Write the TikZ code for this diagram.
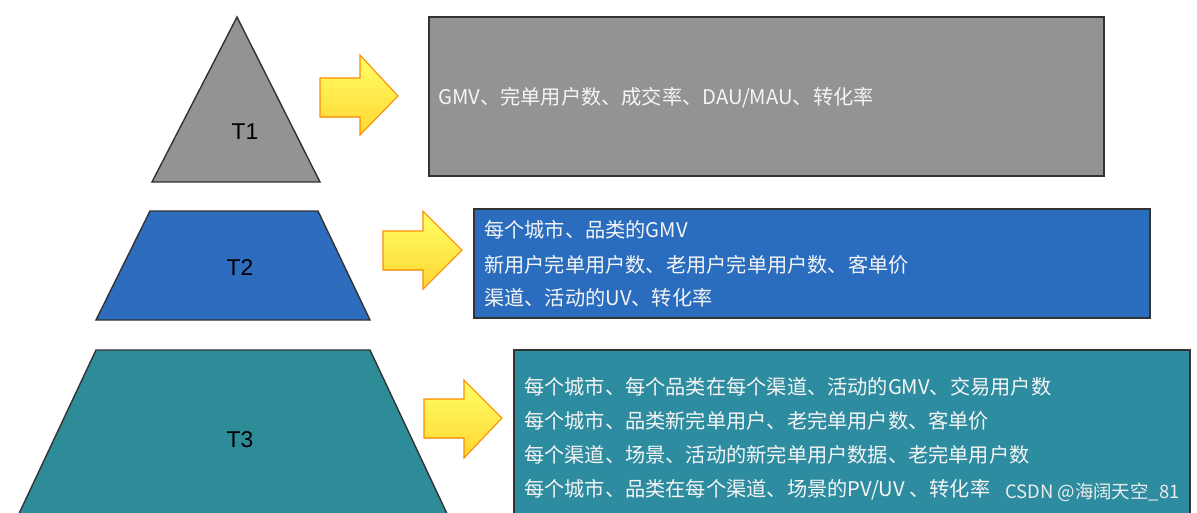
\documentclass[tikz,border=0pt]{standalone}
\usepackage{fontspec}
\setmainfont{Noto Sans CJK SC}
\newfontfamily\lat{Liberation Sans}
\begin{document}
\begin{tikzpicture}[x=0.02cm,y=-0.02cm,
  shp/.style={draw=black!80,line width=0.8pt},
  arr/.style={draw=orange!90!yellow,line width=0.6pt,top color=yellow!60,bottom color=orange!40!yellow!80},
  txt/.style={text=white!92!gray,anchor=west,font=\fontsize{11.5}{14}\selectfont,align=left,inner sep=0},
  lbl/.style={font=\lat\fontsize{13}{15}\selectfont,text=black}]
\useasboundingbox (0,0) rectangle (1197,512);
% T1
\filldraw[shp,fill=gray!85] (237,17) -- (320,182) -- (152,182) -- cycle;
\node[lbl] (t1) at (245,132) {T1};
\fill[arr] (320,78) -- (360,78) -- (360,55) -- (398,96) -- (360,135) -- (360,117) -- (320,117) -- cycle;
\filldraw[shp,fill=gray!85] (429,17) rectangle (1104,176);
\node[txt] (b1) at (438,98) {GMV、完单用户数、成交率、DAU/MAU、转化率};
% T2
\filldraw[shp,fill={rgb,255:red,46;green,108;blue,189}] (150,211) -- (318,211) -- (370,320) -- (96,320) -- cycle;
\node[lbl] (t2) at (240,268) {T2};
\fill[arr] (383,231) -- (423,231) -- (423,211) -- (462,250) -- (423,289) -- (423,270) -- (383,270) -- cycle;
\filldraw[shp,fill={rgb,255:red,42;green,109;blue,191}] (474,209) rectangle (1150,318);
\node[txt] (b2a) at (484,230) {每个城市、品类的GMV};
\node[txt] (b2b) at (484,265) {新用户完单用户数、老用户完单用户数、客单价};
\node[txt] (b2c) at (484,298) {渠道、活动的UV、转化率};
% T3
\filldraw[shp,fill={rgb,255:red,46;green,139;blue,152}] (96,350) -- (370,350) -- (450,520) -- (16,520) -- cycle;
\node[lbl] (t3) at (240,440) {T3};
\fill[arr] (424,399) -- (464,399) -- (464,380) -- (502,418) -- (464,458) -- (464,438) -- (424,438) -- cycle;
\filldraw[shp,fill={rgb,255:red,46;green,140;blue,160}] (514,350) rectangle (1190,520);
\node[txt] (b3a) at (524,387) {每个城市、每个品类在每个渠道、活动的GMV、交易用户数};
\node[txt] (b3b) at (524,421) {每个城市、品类新完单用户、老完单用户数、客单价};
\node[txt] (b3c) at (524,455) {每个渠道、场景、活动的新完单用户数据、老完单用户数};
\node[txt] (b3d) at (524,490) {每个城市、品类在每个渠道、场景的PV/UV 、转化率};
\node[anchor=east,inner sep=0,text=white!85!gray,font=\fontsize{10.5}{12}\selectfont] (wm) at (1180,492) {CSDN @海阔天空\_81};
\end{tikzpicture}
\end{document}
